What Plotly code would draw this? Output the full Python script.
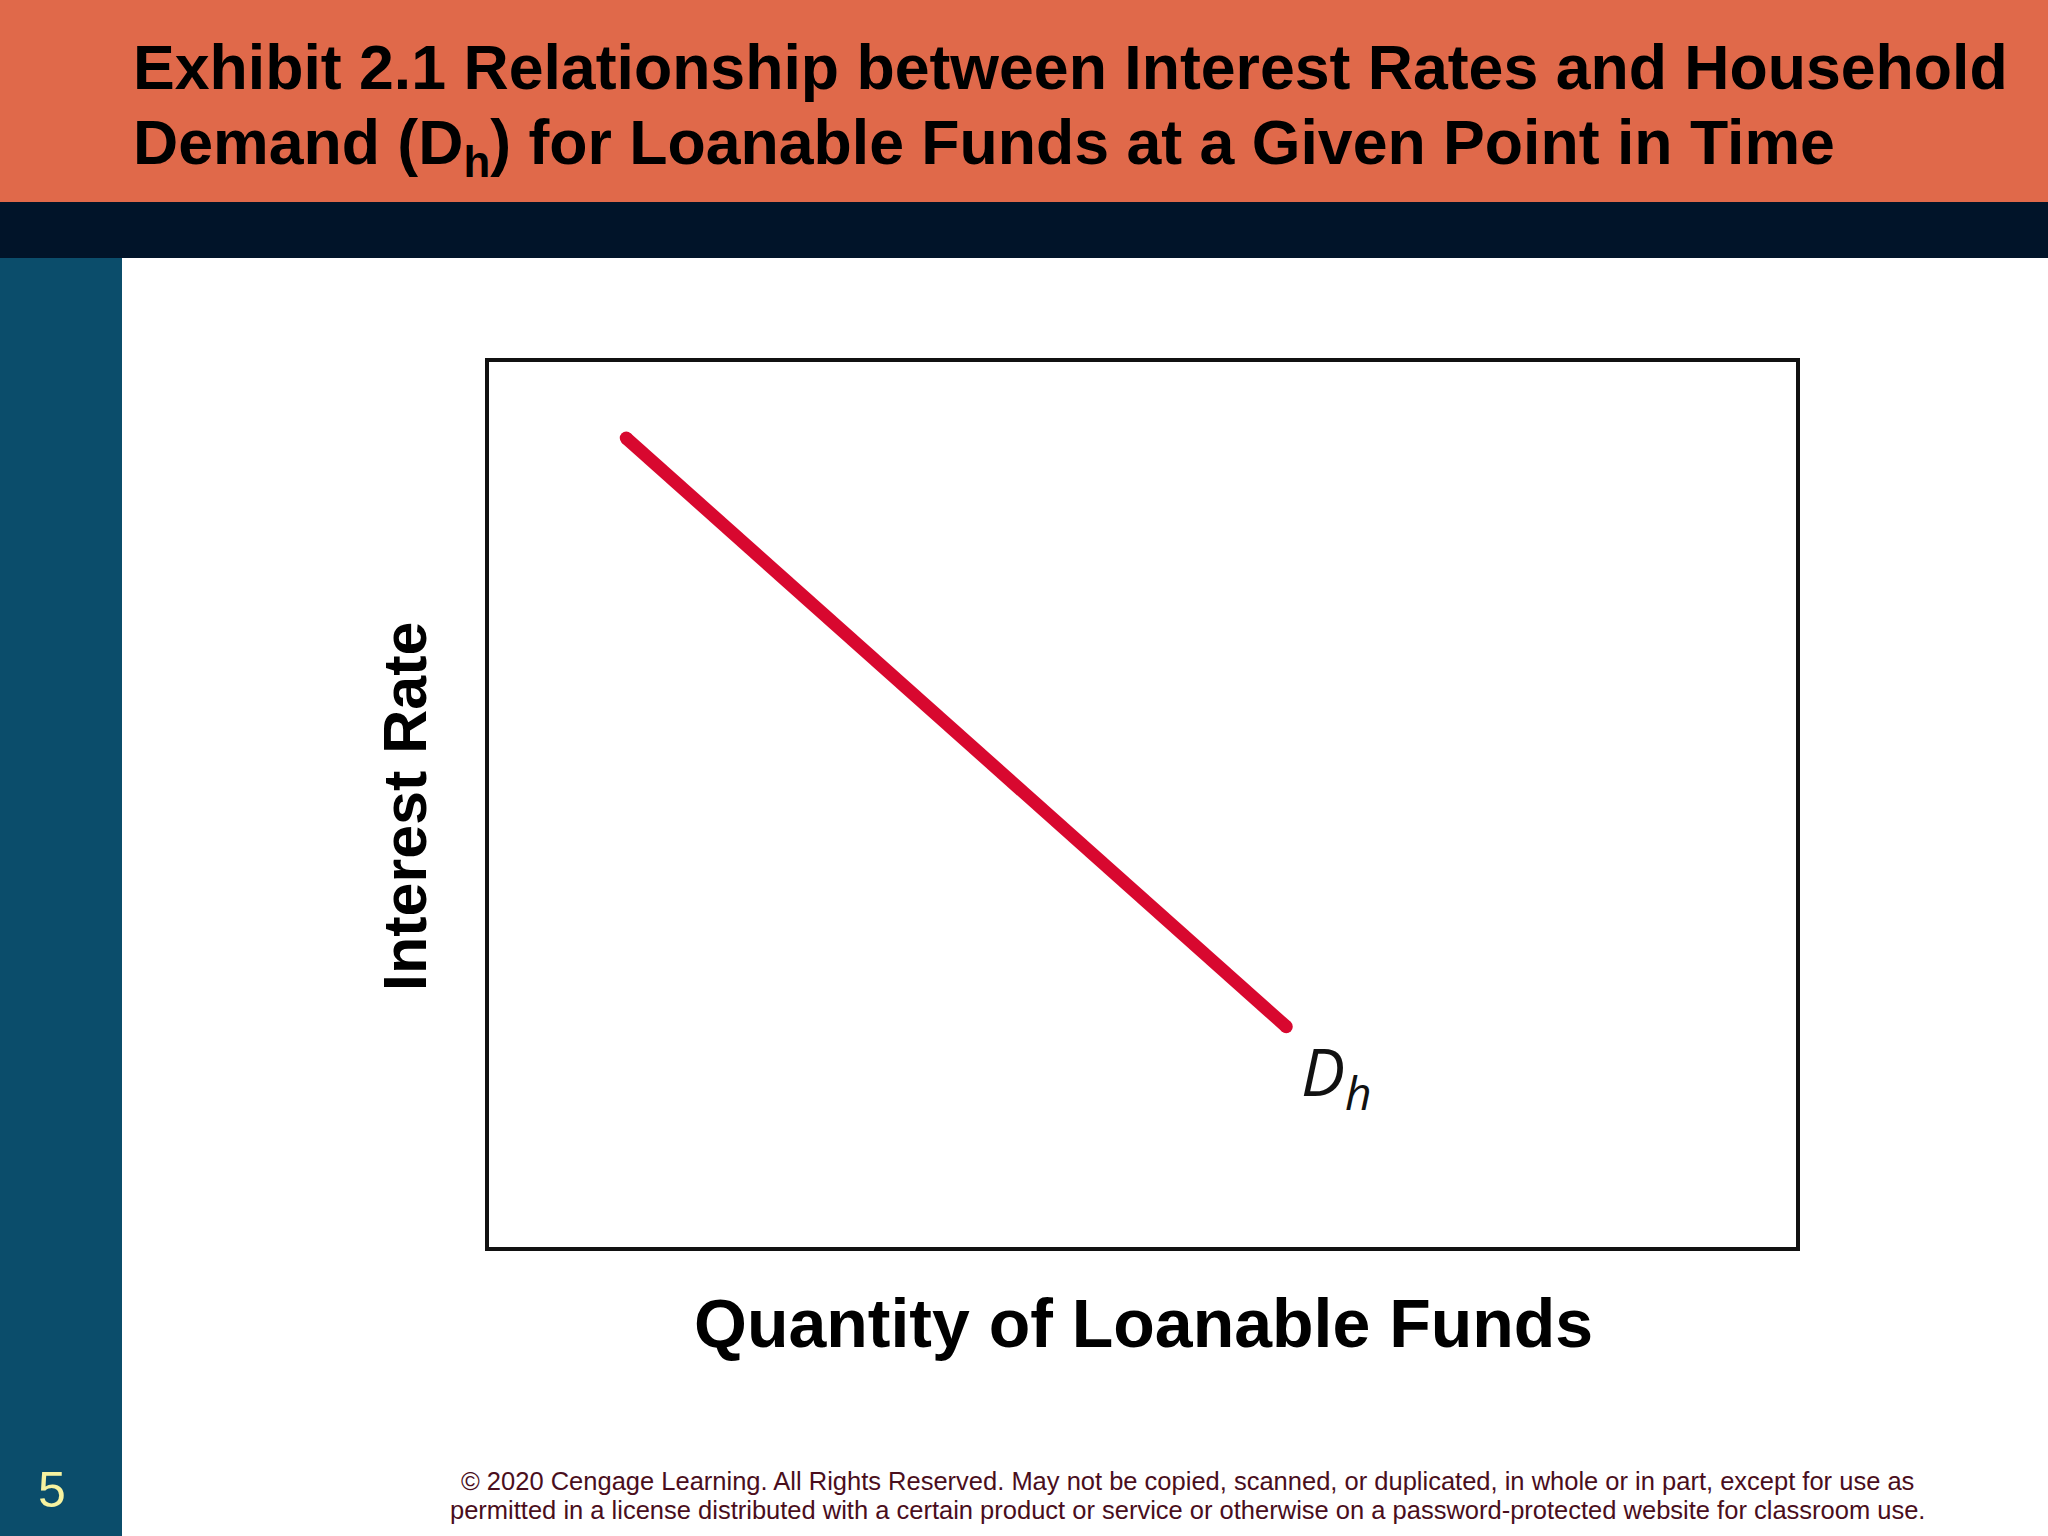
import plotly.graph_objects as go

# ---- data ----
quantity = [1.05, 6.1]           # quantity of loanable funds (relative units)
interest_rate = [9.14, 2.49]     # interest rate (relative units)
curve_label = "D<sub>h</sub>"
label_pos = [6.2, 1.95]

title_lines = [
    "Exhibit 2.1 Relationship between Interest Rates and Household",
    "Demand (D<sub>h</sub>) for Loanable Funds at a Given Point in Time",
]
x_title = "Quantity of Loanable Funds"
y_title = "Interest Rate"
footer_lines = [
    "© 2020 Cengage Learning. All Rights Reserved. May not be copied, scanned, or duplicated, in whole or in part, except for use as",
    "permitted in a license distributed with a certain product or service or otherwise on a password-protected website for classroom use.",
]
page_number = "5"

W, H = 2048, 1536
RED = "#D8082F"

fig = go.Figure()
fig.add_trace(go.Scatter(
    x=quantity, y=interest_rate, mode="lines+markers",
    line=dict(color=RED, width=13),
    marker=dict(color=RED, size=13, line=dict(width=0)),
    hoverinfo="skip", showlegend=False,
))

px = lambda v: v / W
py = lambda v: 1 - v / H

shapes = [
    dict(type="rect", xref="paper", yref="paper", x0=0, x1=1, y0=py(202), y1=1,
         fillcolor="#E0694A", line=dict(width=0), layer="below"),
    dict(type="rect", xref="paper", yref="paper", x0=0, x1=1, y0=py(258), y1=py(202),
         fillcolor="#011429", line=dict(width=0), layer="below"),
    dict(type="rect", xref="paper", yref="paper", x0=0, x1=px(122), y0=0, y1=py(258),
         fillcolor="#0B4D6B", line=dict(width=0), layer="below"),
]

ann = []
title_font = dict(family="Liberation Sans, Arial, sans-serif", size=62.6, color="#000000", weight="bold")
ann.append(dict(text=title_lines[0], x=px(131), y=py(30), xref="paper", yref="paper",
                xanchor="left", yanchor="top", showarrow=False, font=title_font))
ann.append(dict(text=title_lines[1], x=px(131), y=py(105), xref="paper", yref="paper",
                xanchor="left", yanchor="top", showarrow=False, font=title_font))
ann.append(dict(text=x_title, x=px(1143), y=py(1283), xref="paper", yref="paper",
                xanchor="center", yanchor="top", showarrow=False,
                font=dict(family="Liberation Sans, Arial, sans-serif", size=68, color="#000000", weight="bold")))
ann.append(dict(text=y_title, x=px(405), y=py(806), xref="paper", yref="paper",
                xanchor="center", yanchor="middle", textangle=-90, showarrow=False,
                font=dict(family="Liberation Sans, Arial, sans-serif", size=61, color="#000000", weight="bold")))
ann.append(dict(text=curve_label, x=label_pos[0], y=label_pos[1], xref="x", yref="y",
                xanchor="left", yanchor="middle", showarrow=False,
                font=dict(family="Open Sans, sans-serif", size=66, color="#111111", style="italic")))
footer_font = dict(family="Liberation Sans, Arial, sans-serif", size=25.5, color="#4A0E1C")
ann.append(dict(text=footer_lines[0], x=px(1187), y=py(1465), xref="paper", yref="paper",
                xanchor="center", yanchor="top", showarrow=False, font=footer_font))
ann.append(dict(text=footer_lines[1], x=px(1187), y=py(1494), xref="paper", yref="paper",
                xanchor="center", yanchor="top", showarrow=False, font=footer_font))
ann.append(dict(text=page_number, x=px(52), y=py(1490), xref="paper", yref="paper",
                xanchor="center", yanchor="middle", showarrow=False,
                font=dict(family="Liberation Sans, Arial, sans-serif", size=50, color="#F7F3A0")))

axis_common = dict(showgrid=False, zeroline=False, showticklabels=False, ticks="",
                   showline=True, mirror=True, linecolor="#111111", linewidth=4,
                   range=[0, 10], fixedrange=True)

fig.update_layout(
    width=W, height=H, autosize=False,
    margin=dict(l=0, r=0, t=0, b=0),
    paper_bgcolor="#FFFFFF", plot_bgcolor="#FFFFFF",
    xaxis=dict(domain=[px(489), px(1796)], **axis_common),
    yaxis=dict(domain=[py(1247), py(362)], **axis_common),
    shapes=shapes, annotations=ann,
)

fig.write_html("out.html", config={"displayModeBar": False},
               post_script="document.body.style.margin='0';document.body.style.overflow='hidden';")
